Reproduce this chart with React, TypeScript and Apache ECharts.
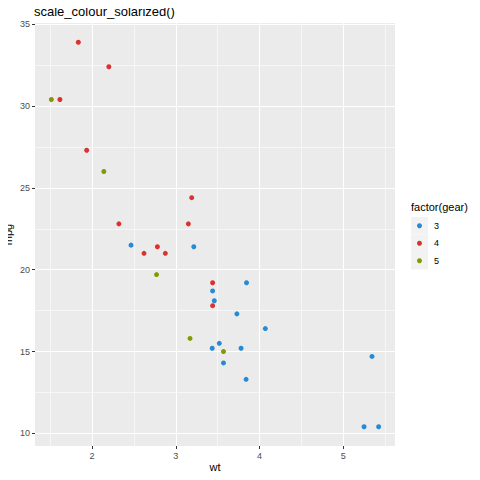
import { useEffect, useRef } from 'react';
import * as echarts from 'echarts';

// mtcars: wt vs mpg, split by gear
const gear3Wt = [3.215, 3.44, 3.46, 3.57, 4.07, 3.73, 3.78, 5.25, 5.424, 5.345, 2.465, 3.52, 3.435, 3.84, 3.845];
const gear3Mpg = [21.4, 18.7, 18.1, 14.3, 16.4, 17.3, 15.2, 10.4, 10.4, 14.7, 21.5, 15.5, 15.2, 13.3, 19.2];
const gear4Wt = [2.62, 2.875, 2.32, 3.19, 3.15, 3.44, 3.44, 2.2, 1.615, 1.835, 1.935, 2.78];
const gear4Mpg = [21, 21, 22.8, 24.4, 22.8, 19.2, 17.8, 32.4, 30.4, 33.9, 27.3, 21.4];
const gear5Wt = [2.14, 1.513, 3.17, 2.77, 3.57];
const gear5Mpg = [26, 30.4, 15.8, 19.7, 15];

const gearLevels = ['3', '4', '5'];
const gearColors = ['#268BD2', '#DC322F', '#859900'];

const xTicks = [2, 3, 4, 5];
const xMinor = [1.5, 2.5, 3.5, 4.5, 5.5];
const yTicks = [10, 15, 20, 25, 30, 35];
const yMinor = [12.5, 17.5, 22.5, 27.5, 32.5];

const font = '"Liberation Sans", Arial, sans-serif';

const zip = (xs: number[], ys: number[]) => xs.map((x, i) => [x, ys[i]]);

export default function App() {
  const chartRef = useRef<HTMLDivElement>(null);

  useEffect(() => {
    if (!chartRef.current) return;
    const chart = echarts.init(chartRef.current, null, { renderer: 'svg' });

    const allWt = [...gear3Wt, ...gear4Wt, ...gear5Wt];
    const allMpg = [...gear3Mpg, ...gear4Mpg, ...gear5Mpg];
    const pad = (arr: number[]) => {
      const lo = Math.min(...arr);
      const hi = Math.max(...arr);
      const d = (hi - lo) * 0.05;
      return [lo - d, hi + d];
    };
    const [xMin, xMax] = pad(allWt);
    const [yMin, yMax] = pad(allMpg);

    const gridLines = (width: number, xs: number[], ys: number[]) => ({
      silent: true,
      symbol: 'none',
      z: 1,
      animation: false,
      label: { show: false },
      lineStyle: { color: '#FFFFFF', width, type: 'solid' },
      emphasis: { disabled: true },
      data: [...xs.map((v) => ({ xAxis: v })), ...ys.map((v) => ({ yAxis: v }))],
    });

    const axisLabel = { color: '#4D4D4D', fontSize: 9, fontFamily: font, margin: 5 };
    const axisTick = { show: true, length: 3, lineStyle: { color: '#333333', width: 1 } };

    const option: echarts.EChartsOption = {
      animation: false,
      title: {
        text: 'scale_colour_solarized()',
        left: 34,
        top: 5,
        padding: 0,
        textStyle: { fontSize: 13, fontWeight: 'normal', color: '#000000', fontFamily: font },
      },
      grid: {
        left: 35,
        right: 85,
        top: 23,
        bottom: 34,
        containLabel: false,
        outerBoundsMode: 'none',
        show: true,
        backgroundColor: '#EBEBEB',
        borderWidth: 0,
      } as any,
      xAxis: {
        type: 'value',
        min: xMin,
        max: xMax,
        name: 'wt',
        nameLocation: 'middle',
        nameGap: 15,
        nameMoveOverlap: false,
        nameTextStyle: { fontSize: 11, color: '#000000', fontFamily: font },
        axisLine: { show: false },
        axisTick: { ...axisTick, customValues: xTicks },
        axisLabel: { ...axisLabel, customValues: xTicks },
        splitLine: { show: false },
      } as any,
      yAxis: {
        type: 'value',
        min: yMin,
        max: yMax,
        name: 'mpg',
        nameLocation: 'middle',
        nameGap: 22,
        nameMoveOverlap: false,
        nameTextStyle: { fontSize: 11, color: '#000000', fontFamily: font },
        axisLine: { show: false },
        axisTick: { ...axisTick, customValues: yTicks },
        axisLabel: { ...axisLabel, customValues: yTicks },
        splitLine: { show: false },
      } as any,
      legend: {
        data: gearLevels,
        orient: 'vertical',
        left: 417,
        top: 217,
        padding: 0,
        itemWidth: 5,
        itemHeight: 5,
        itemGap: 0,
        icon: 'circle',
        textStyle: { fontSize: 9, color: '#000000', fontFamily: font, lineHeight: 17.5, padding: [0, 0, 0, 7] },
      },
      graphic: [
        {
          type: 'text',
          left: 411,
          top: 201,
          style: { text: 'factor(gear)', fontSize: 11, fill: '#000000', fontFamily: font },
        },
        ...gearLevels.map((_, i) => ({
          type: 'rect' as const,
          left: 411,
          top: 217 + i * 17.5,
          z: -1,
          shape: { width: 17, height: 17.5 },
          style: { fill: '#F2F2F2' },
        })),
      ],
      series: [
        {
          type: 'scatter',
          name: 'minorGrid',
          data: [],
          markLine: gridLines(0.55, xMinor, yMinor),
        },
        {
          type: 'scatter',
          name: 'majorGrid',
          data: [],
          markLine: gridLines(1.1, xTicks, yTicks),
        },
        ...[
          zip(gear3Wt, gear3Mpg),
          zip(gear4Wt, gear4Mpg),
          zip(gear5Wt, gear5Mpg),
        ].map((data, i) => ({
          type: 'scatter' as const,
          name: gearLevels[i],
          data,
          z: 3,
          symbolSize: 5,
          itemStyle: { color: gearColors[i], opacity: 1 },
        })),
      ],
    };

    chart.setOption(option);
    return () => chart.dispose();
  }, []);

  return <div ref={chartRef} style={{ width: 480, height: 480, margin: -8 }} />;
}
